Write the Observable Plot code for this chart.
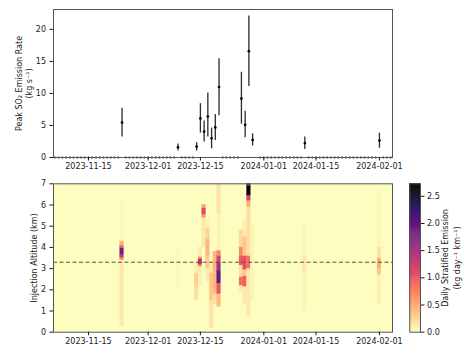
<!DOCTYPE html>
<html><head><meta charset="utf-8">
<script src="https://cdn.jsdelivr.net/npm/d3@7"></script>
<script src="https://cdn.jsdelivr.net/npm/@observablehq/plot@0.6"></script>
<style>
body{margin:0;background:#fff;}
#wrap{position:relative;width:474px;height:355px;font-family:"DejaVu Sans",sans-serif;}
#wrap svg{position:absolute;overflow:visible;}
</style></head><body><div id="wrap"></div>
<script>
// ---- data ----
const xLimits = ["2023-11-05T15:00Z", "2024-02-04T12:00Z"];
const xTickDates = ["2023-11-15","2023-12-01","2023-12-15","2024-01-01","2024-01-15","2024-02-01"];
const yTicksTop = [0,5,10,15,20];
const yTicksBottom = [0,1,2,3,4,5,6,7];
const colorTicks = [0,0.5,1,1.5,2,2.5];
const colorMax = 2.73;
const ventAltitude = 3.3;

const pointDates  = ["2023-11-24","2023-12-09","2023-12-14","2023-12-15","2023-12-16","2023-12-17","2023-12-18","2023-12-19","2023-12-20","2023-12-26","2023-12-27","2023-12-28","2023-12-29","2024-01-12","2024-02-01"];
const pointValues = [5.45,1.6,1.7,6.1,4.05,6.4,3.0,4.7,11.0,9.2,5.1,16.6,2.75,2.25,2.65];
const pointLow    = [3.2,1.0,1.0,3.8,2.4,3.2,1.35,2.65,6.5,5.2,3.1,11.1,1.8,1.25,1.45];
const pointHigh   = [7.7,2.1,2.3,8.4,5.7,10.05,4.6,6.7,15.4,13.3,7.2,22.1,3.7,3.2,3.8];

// days with zero emission (inclusive ranges)
const zeroRanges = [
  ["2023-11-06","2023-11-23"],["2023-11-25","2023-12-08"],["2023-12-10","2023-12-13"],
  ["2023-12-21","2023-12-25"],["2023-12-31","2024-01-11"],["2024-01-13","2024-01-31"],
  ["2024-02-02","2024-02-04"]
];

// stratified emission: day, [altitude low km, altitude high km, value]
const heatColumns = [
  ["2023-11-24", [[0.25,3.4,0.11],[3.4,3.52,0.7],[3.52,3.65,1.3],[3.65,3.95,1.85],[3.95,4.08,1.0],[4.08,4.3,0.45],[4.3,6.2,0.04]]],
  ["2023-12-09", [[2.0,3.9,0.05]]],
  ["2023-12-14", [[1.5,2.1,0.18],[2.1,2.8,0.28],[2.8,3.3,0.08]]],
  ["2023-12-15", [[2.2,3.1,0.08],[3.1,3.2,0.8],[3.2,3.45,1.45],[3.45,3.55,0.7],[3.55,4.0,0.1]]],
  ["2023-12-16", [[4.0,5.4,0.12],[5.4,5.55,0.6],[5.55,5.85,1.1],[5.85,6.0,0.55]]],
  ["2023-12-17", [[2.4,3.0,0.1],[3.0,3.6,0.3],[3.6,4.4,0.42],[4.4,4.9,0.25],[4.9,5.3,0.07]]],
  ["2023-12-18", [[0.2,1.5,0.16],[1.5,2.8,0.33],[2.8,3.3,0.12]]],
  ["2023-12-19", [[1.3,1.8,0.18],[1.8,3.8,0.42]]],
  ["2023-12-20", [[1.2,1.8,0.4],[1.8,2.3,1.0],[2.3,2.9,1.9],[2.9,3.3,1.5],[3.3,3.6,1.2],[3.6,3.85,0.7],[3.85,5.6,0.06],[5.6,7.0,0.16]]],
  ["2023-12-26", [[1.9,2.2,0.12],[2.2,2.6,0.85],[2.6,3.15,0.2],[3.15,3.6,1.0],[3.6,4.0,0.7],[4.0,4.8,0.22]]],
  ["2023-12-27", [[1.3,2.15,0.12],[2.15,2.65,0.9],[2.65,2.95,0.3],[2.95,3.6,1.05],[3.6,4.5,0.32],[4.5,5.3,0.1]]],
  ["2023-12-28", [[0.7,3.0,0.12],[3.0,3.6,0.8],[3.6,5.9,0.18],[5.9,6.2,0.45],[6.2,6.45,1.2],[6.45,6.9,2.7],[6.9,7.0,1.8]]],
  ["2023-12-29", [[1.5,5.0,0.06]]],
  ["2024-01-12", [[1.0,2.8,0.07],[2.8,3.6,0.13],[3.6,5.1,0.05]]],
  ["2024-02-01", [[1.3,2.7,0.08],[2.7,3.0,0.33],[3.0,3.5,0.48],[3.5,4.0,0.18],[4.0,6.7,0.04]]]
];

// ---- build tables ----
const D = s => new Date(s.length === 10 ? s + "T00:00:00Z" : s);
const xDomain = xLimits.map(D);
const HALF = 12 * 3600 * 1000;
const points = pointDates.map((d, i) => ({date: D(d), value: pointValues[i], lo: pointLow[i], hi: pointHigh[i]}));
const zeros = zeroRanges.flatMap(([a, b]) => d3.utcDay.range(D(a), d3.utcDay.offset(D(b), 1)));
const cells = heatColumns.flatMap(([d, segs]) => segs.map(([lo, hi, v]) => ({date: D(d), lo, hi, v})));
const colorOpts = {type: "linear", scheme: "magma", reverse: true, domain: [0, colorMax], clamp: true};
const tickFmt = d3.utcFormat("%Y-%m-%d");
const baseStyle = {fontFamily: "'DejaVu Sans', sans-serif", fontSize: "8px", color: "#1a1a1a", background: "transparent", overflow: "visible"};
const labelOpts = {text: d => d, rotate: -90, textAnchor: "middle", lineAnchor: "middle", fontSize: 8, fill: "#1a1a1a"};

const wrap = document.getElementById("wrap");

// ---- top panel ----
const topPlot = Plot.plot({
  width: 474, height: 175,
  marginLeft: 53, marginRight: 82, marginTop: 9, marginBottom: 18,
  style: baseStyle,
  x: {type: "utc", domain: xDomain},
  y: {domain: [0, 23.1]},
  marks: [
    Plot.ruleX(points, {x: "date", y1: "lo", y2: "hi", stroke: "#2b2b2b", strokeWidth: 1.3}),
    Plot.dot(zeros, {x: d => d, y: () => 0, r: 1, fill: "#000"}),
    Plot.dot(points, {x: "date", y: "value", r: 1.35, fill: "#000"}),
    Plot.frame({stroke: "#555", strokeWidth: 1}),
    Plot.axisX({ticks: xTickDates.map(D), tickFormat: tickFmt, tickSize: 3.5, tickPadding: 2, label: null}),
    Plot.axisY({ticks: yTicksTop, tickFormat: d3.format("d"), tickSize: 3.5, tickPadding: 4, label: null}),
    Plot.text(["Peak SO₂ Emission Rate\n(kg s⁻¹)"], {...labelOpts, frameAnchor: "left", dx: -30, lineHeight: 1.25})
  ]
});
topPlot.style.left = "0px"; topPlot.style.top = "0px";
wrap.appendChild(topPlot);

// ---- heatmap panel ----
const heatPlot = Plot.plot({
  width: 474, height: 180,
  marginLeft: 53, marginRight: 82, marginTop: 8.3, marginBottom: 23.3,
  style: baseStyle,
  x: {type: "utc", domain: xDomain},
  y: {domain: [0, 7]},
  color: colorOpts,
  marks: [
    Plot.rect([0], {x1: () => xDomain[0], x2: () => xDomain[1], y1: () => 0, y2: () => 7, fill: d => d}),
    Plot.rect(cells, {x1: d => new Date(+d.date - HALF), x2: d => new Date(+d.date + HALF), y1: "lo", y2: "hi", fill: "v", stroke: "v", strokeWidth: 0.3}),
    Plot.ruleY([ventAltitude], {stroke: "#5c5540", strokeWidth: 1, strokeDasharray: "4,2.5"}),
    Plot.frame({stroke: "#555", strokeWidth: 1}),
    Plot.axisX({ticks: xTickDates.map(D), tickFormat: tickFmt, tickSize: 3.5, tickPadding: 3, label: null}),
    Plot.axisY({ticks: yTicksBottom, tickFormat: d3.format("d"), tickSize: 3.5, tickPadding: 4, label: null}),
    Plot.text(["Injection Altitude (km)"], {...labelOpts, frameAnchor: "left", dx: -19})
  ]
});
heatPlot.style.left = "0px"; heatPlot.style.top = "175px";
wrap.appendChild(heatPlot);
const heatGroup = heatPlot.querySelectorAll('g[aria-label="rect"]')[1];
if (heatGroup) heatGroup.style.filter = "blur(0.6px)";

// ---- colorbar ----
const steps = d3.range(0, 300).map(i => i * colorMax / 300);
const cbar = Plot.plot({
  width: 79, height: 180,
  marginLeft: 14.3, marginRight: 54, marginTop: 8.3, marginBottom: 23.3,
  style: baseStyle,
  x: {domain: [0, 1], axis: null},
  y: {domain: [0, colorMax]},
  color: colorOpts,
  marks: [
    Plot.rect(steps, {x1: () => 0, x2: () => 1, y1: d => d, y2: d => Math.min(d + colorMax / 300, colorMax), fill: d => d, stroke: d => d, strokeWidth: 0.4}),
    Plot.frame({stroke: "#555", strokeWidth: 1}),
    Plot.axisY({anchor: "right", ticks: colorTicks, tickFormat: d3.format(".1f"), tickSize: 3.5, tickPadding: 3, label: null}),
    Plot.text(["Daily Stratified Emission\n(kg day⁻¹ km⁻¹)"], {...labelOpts, frameAnchor: "right", dx: 29.5, lineHeight: 1.45})
  ]
});
cbar.style.left = "395px"; cbar.style.top = "175px";
wrap.appendChild(cbar);
</script></body></html>
